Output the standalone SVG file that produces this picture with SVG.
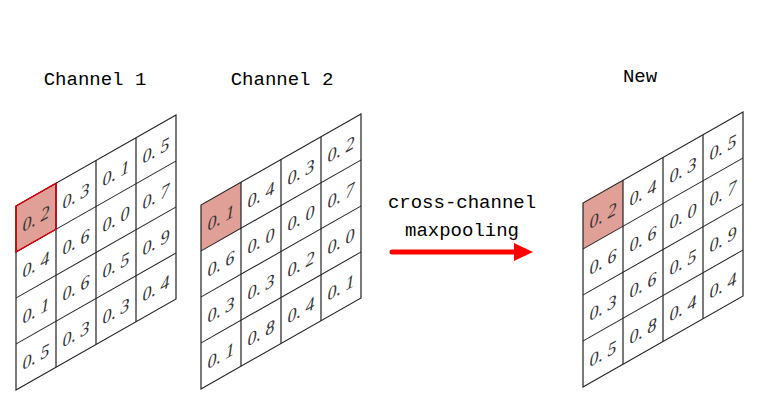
<svg xmlns="http://www.w3.org/2000/svg" width="765" height="415" viewBox="0 0 765 415">
<defs>
<style>
line.gl{stroke:#222;stroke-width:1.2}
.frame{fill:none;stroke:#222;stroke-width:1.2}
.hl{fill:#e0a097;stroke:#e8000b;stroke-width:1.2}
.n{font-family:"Liberation Serif",serif;font-style:italic;font-size:18px;fill:#333;text-anchor:middle}
.t{font-family:"Liberation Mono",monospace;font-size:19px;fill:#000;text-anchor:middle}
</style>
<g id="grid">
<rect class="frame" x="0" y="0" width="160" height="184"/>
<line class="gl" x1="40" y1="0" x2="40" y2="184"/><line class="gl" x1="80" y1="0" x2="80" y2="184"/><line class="gl" x1="120" y1="0" x2="120" y2="184"/>
<line class="gl" x1="0" y1="46" x2="160" y2="46"/><line class="gl" x1="0" y1="92" x2="160" y2="92"/><line class="gl" x1="0" y1="138" x2="160" y2="138"/>
</g>
</defs>
<text class="t" x="95" y="85">Channel 1</text>
<text class="t" x="282" y="85">Channel 2</text>
<text class="t" x="640" y="82">New</text>
<text class="t" x="462" y="208">cross-channel</text>
<text class="t" x="462" y="236">maxpooling</text>
<g id="connectors">
<line x1="392" y1="252" x2="516" y2="252" stroke="#f00" stroke-width="5" stroke-linecap="round"/>
<polygon points="514,243 533,252 514,261" fill="#f00"/>
</g>
<g id="channel1" transform="matrix(1,-0.56875,0,1,16,206)">
<rect class="hl" x="0" y="0" width="40" height="46"/>
<use href="#grid"/>
<rect class="hl" x="0" y="0" width="40" height="46" style="fill:none"/>
<g class="n">
<text x="20" y="30">0. 2</text><text x="60" y="30">0. 3</text><text x="100" y="30">0. 1</text><text x="140" y="30">0. 5</text>
<text x="20" y="76">0. 4</text><text x="60" y="76">0. 6</text><text x="100" y="76">0. 0</text><text x="140" y="76">0. 7</text>
<text x="20" y="122">0. 1</text><text x="60" y="122">0. 6</text><text x="100" y="122">0. 5</text><text x="140" y="122">0. 9</text>
<text x="20" y="168">0. 5</text><text x="60" y="168">0. 3</text><text x="100" y="168">0. 3</text><text x="140" y="168">0. 4</text>
</g>
</g>
<g id="channel2" transform="matrix(1,-0.56875,0,1,201,205)">
<rect class="hl" x="0" y="0" width="40" height="46" style="stroke:none"/>
<use href="#grid"/>
<g class="n">
<text x="20" y="30">0. 1</text><text x="60" y="30">0. 4</text><text x="100" y="30">0. 3</text><text x="140" y="30">0. 2</text>
<text x="20" y="76">0. 6</text><text x="60" y="76">0. 0</text><text x="100" y="76">0. 0</text><text x="140" y="76">0. 7</text>
<text x="20" y="122">0. 3</text><text x="60" y="122">0. 3</text><text x="100" y="122">0. 2</text><text x="140" y="122">0. 0</text>
<text x="20" y="168">0. 1</text><text x="60" y="168">0. 8</text><text x="100" y="168">0. 4</text><text x="140" y="168">0. 1</text>
</g>
</g>
<g id="new" transform="matrix(1,-0.56875,0,1,583,203)">
<rect class="hl" x="0" y="0" width="40" height="46" style="stroke:none"/>
<use href="#grid"/>
<g class="n">
<text x="20" y="30">0. 2</text><text x="60" y="30">0. 4</text><text x="100" y="30">0. 3</text><text x="140" y="30">0. 5</text>
<text x="20" y="76">0. 6</text><text x="60" y="76">0. 6</text><text x="100" y="76">0. 0</text><text x="140" y="76">0. 7</text>
<text x="20" y="122">0. 3</text><text x="60" y="122">0. 6</text><text x="100" y="122">0. 5</text><text x="140" y="122">0. 9</text>
<text x="20" y="168">0. 5</text><text x="60" y="168">0. 8</text><text x="100" y="168">0. 4</text><text x="140" y="168">0. 4</text>
</g>
</g>
</svg>
